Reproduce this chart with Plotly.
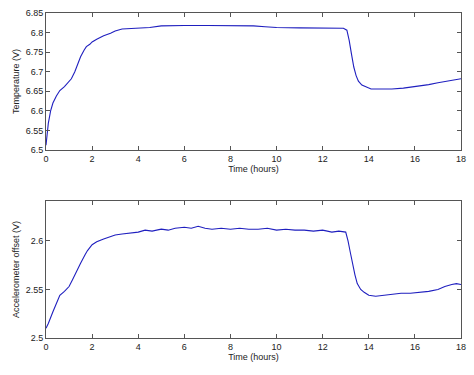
import plotly.graph_objects as go

# Temperature (V) vs time (hours)
temp_t = [0, 0.05, 0.1, 0.2, 0.3, 0.45, 0.6, 0.8, 1.0, 1.1, 1.25, 1.5, 1.65, 1.75, 1.9, 2.0, 2.2, 2.5, 2.8, 3.0, 3.3, 3.6, 4.0, 4.5, 5.0, 5.5, 6.0, 7.0, 8.0, 9.0, 9.5, 10.0, 11.0, 12.0, 12.9, 13.05, 13.15, 13.25, 13.35, 13.45, 13.55, 13.7, 13.9, 14.1, 14.5, 15.0, 15.5, 16.0, 16.6, 17.0, 17.5, 18.0]
temp_v = [6.512, 6.545, 6.568, 6.600, 6.620, 6.638, 6.652, 6.662, 6.675, 6.682, 6.700, 6.738, 6.755, 6.764, 6.770, 6.776, 6.783, 6.792, 6.798, 6.804, 6.809, 6.810, 6.812, 6.813, 6.817, 6.818, 6.818, 6.818, 6.818, 6.817, 6.815, 6.813, 6.812, 6.811, 6.811, 6.806, 6.780, 6.745, 6.712, 6.690, 6.676, 6.666, 6.660, 6.656, 6.656, 6.656, 6.658, 6.662, 6.667, 6.672, 6.677, 6.682]

# Accelerometer offset (V) vs time (hours)
acc_t = [0, 0.1, 0.3, 0.5, 0.6, 0.8, 1.0, 1.15, 1.3, 1.5, 1.7, 1.8, 2.0, 2.2, 2.5, 2.8, 3.0, 3.3, 3.6, 4.0, 4.3, 4.6, 5.0, 5.3, 5.6, 6.0, 6.3, 6.6, 6.9, 7.2, 7.6, 8.0, 8.4, 8.8, 9.2, 9.6, 10.0, 10.4, 10.8, 11.2, 11.6, 12.0, 12.4, 12.7, 13.0, 13.1, 13.2, 13.3, 13.4, 13.5, 13.65, 13.8, 14.0, 14.3, 14.6, 15.0, 15.4, 15.8, 16.2, 16.6, 17.0, 17.3, 17.6, 17.8, 18.0]
acc_v = [2.510, 2.515, 2.527, 2.538, 2.544, 2.548, 2.553, 2.560, 2.568, 2.577, 2.586, 2.590, 2.596, 2.599, 2.602, 2.604, 2.606, 2.607, 2.608, 2.609, 2.611, 2.610, 2.612, 2.611, 2.613, 2.614, 2.613, 2.615, 2.613, 2.612, 2.613, 2.612, 2.613, 2.612, 2.612, 2.613, 2.611, 2.612, 2.611, 2.611, 2.610, 2.611, 2.609, 2.610, 2.609, 2.600, 2.588, 2.575, 2.565, 2.556, 2.550, 2.547, 2.544, 2.543, 2.544, 2.545, 2.546, 2.546, 2.547, 2.548, 2.550, 2.553, 2.555, 2.556, 2.555]

x_ticks = [0, 2, 4, 6, 8, 10, 12, 14, 16, 18]
temp_ticks = [6.5, 6.55, 6.6, 6.65, 6.7, 6.75, 6.8, 6.85]
temp_tick_text = ["6.5", "6.55", "6.6", "6.65", "6.7", "6.75", "6.8", "6.85"]
acc_ticks = [2.5, 2.55, 2.6]
acc_tick_text = ["2.5", "2.55", "2.6"]

line_color = "#1f1fbf"
font = dict(family="Liberation Sans, Arial, sans-serif", size=9, color="#222")

fig = go.Figure()
fig.add_trace(go.Scatter(x=temp_t, y=temp_v, mode="lines",
                         line=dict(color=line_color, width=1.1),
                         xaxis="x", yaxis="y", showlegend=False))
fig.add_trace(go.Scatter(x=acc_t, y=acc_v, mode="lines",
                         line=dict(color=line_color, width=1.1),
                         xaxis="x2", yaxis="y2", showlegend=False))

axis_common = dict(showgrid=False, zeroline=False, showline=True, mirror="ticks",
                   linecolor="#555", linewidth=1, ticks="inside", ticklen=4,
                   tickcolor="#555", tickfont=font, automargin=False)

fig.update_layout(
    width=474, height=375,
    margin=dict(l=46, r=13, t=13, b=37),
    paper_bgcolor="white", plot_bgcolor="white",
    font=font,
    xaxis=dict(domain=[0, 1], anchor="y", range=[0, 18], tickvals=x_ticks,
               title=dict(text="Time (hours)", font=font, standoff=2), **axis_common),
    yaxis=dict(domain=[0.5785, 1], anchor="x", range=[6.5, 6.85],
               tickvals=temp_ticks, ticktext=temp_tick_text,
               title=dict(text="Temperature (V)", font=font, standoff=4), **axis_common),
    xaxis2=dict(domain=[0, 1], anchor="y2", range=[0, 18], tickvals=x_ticks,
                title=dict(text="Time (hours)", font=font, standoff=2), **axis_common),
    yaxis2=dict(domain=[0, 0.4215], anchor="x2", range=[2.5, 2.641],
                tickvals=acc_ticks, ticktext=acc_tick_text,
                title=dict(text="Accelerometer offset (V)", font=font, standoff=4), **axis_common),
)

fig.write_html("out.html", config={"displayModeBar": False},
               post_script="document.body.style.margin='0';document.body.style.overflow='hidden';")
